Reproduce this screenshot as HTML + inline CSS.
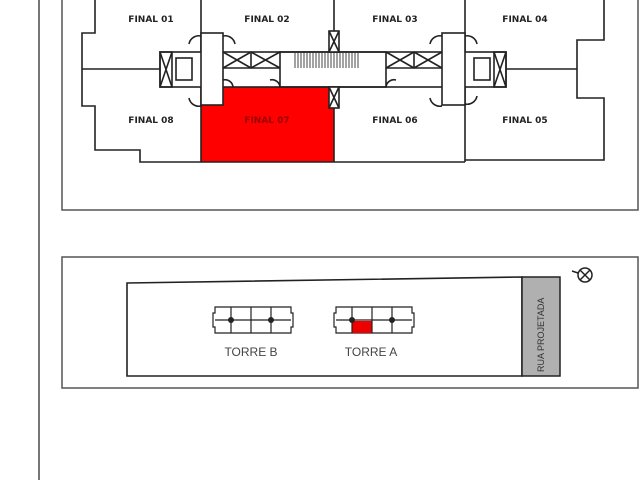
<!DOCTYPE html>
<html><head><style>body{margin:0;background:#fff}svg{display:block}</style></head><body>
<svg width="640" height="480" viewBox="0 0 640 480" xmlns="http://www.w3.org/2000/svg" font-family="Liberation Sans, sans-serif">
<rect width="640" height="480" fill="#fff"/>
<line x1="39" y1="0" x2="39" y2="480" stroke="#777" stroke-width="2"/>
<polyline points="62,0 62,210 638,210 638,0" fill="none" stroke="#555" stroke-width="1.5"/>
<rect x="201" y="87" width="133" height="75" fill="#f00"/>
<g fill="none" stroke="#222" stroke-width="1.6">
<polyline points="95,0 95,33 82,33 82,106 95,106 95,150 140,150 140,162 465,162"/>
<polyline points="604,0 604,40 577,40 577,98 604,98 604,160 465,160"/>
<line x1="201" y1="0" x2="201" y2="162"/>
<line x1="334" y1="0" x2="334" y2="162"/>
<line x1="465" y1="0" x2="465" y2="162"/>
<line x1="82" y1="69" x2="160" y2="69"/>
<line x1="506" y1="69" x2="577" y2="69"/>
<rect x="160" y="52" width="346" height="35" fill="#fff"/>
<rect x="160" y="52" width="12" height="35"/><rect x="494" y="52" width="12" height="35"/>
<path d="M160,52 l12,35 M172,52 l-12,35 M494,52 l12,35 M506,52 l-12,35"/>
<rect x="176" y="58" width="16" height="22"/><rect x="474" y="58" width="16" height="22"/>
<line x1="223" y1="68" x2="280" y2="68"/><line x1="386" y1="68" x2="442" y2="68"/>
<path d="M223,52 l28,16 M251,52 l-28,16 M251,52 l29,16 M280,52 l-29,16 M386,52 l28,16 M414,52 l-28,16 M414,52 l28,16 M442,52 l-28,16"/>
<line x1="251" y1="52" x2="251" y2="68"/><line x1="414" y1="52" x2="414" y2="68"/>
<rect x="280" y="52" width="106" height="35"/>
<rect x="201" y="33" width="22" height="72" fill="#fff"/>
<rect x="442" y="33" width="23" height="72" fill="#fff"/>
<rect x="329" y="31" width="10" height="21" fill="#fff"/><path d="M329,31 l10,21 M339,31 l-10,21"/>
<rect x="329" y="87" width="10" height="21" fill="#fff"/><path d="M329,87 l10,21 M339,87 l-10,21"/>
<path d="M189,44 a10,10 0 0 1 12,-8 M223,36 a10,10 0 0 1 12,8 M189,98 a10,10 0 0 0 12,8 M223,80 a8,8 0 0 1 10,7 M280,87 a8,8 0 0 0 -10,-7 M386,87 a8,8 0 0 1 10,-7 M442,36 a10,10 0 0 0 -12,8 M465,36 a10,10 0 0 1 12,8 M430,98 a10,10 0 0 0 12,8 M465,104 a10,10 0 0 0 12,-8"/>
</g>
<g stroke="#333" stroke-width="0.9">
<path d="M295,53v15M298,53v15M301,53v15M304,53v15M307,53v15M310,53v15M313,53v15M316,53v15M319,53v15M322,53v15M325,53v15M328,53v15M331,53v15M334,53v15M337,53v15M340,53v15M343,53v15M346,53v15M349,53v15M352,53v15M355,53v15M358,53v15"/>
</g>
<g font-size="9" font-weight="bold" fill="#222" text-anchor="middle" font-family="DejaVu Sans, sans-serif">
<text x="151" y="22">FINAL 01</text><text x="267" y="22">FINAL 02</text><text x="395" y="22">FINAL 03</text><text x="525" y="22">FINAL 04</text>
<text x="151" y="123">FINAL 08</text><text x="267" y="123" fill="#900">FINAL 07</text><text x="395" y="123">FINAL 06</text><text x="525" y="123">FINAL 05</text>
</g>
<rect x="62" y="257" width="576" height="131" fill="none" stroke="#555" stroke-width="1.5"/>
<polygon points="127,283 522,277 522,376 127,376" fill="none" stroke="#222" stroke-width="1.6"/>
<rect x="522" y="277" width="38" height="99" fill="#b0b0b0" stroke="#222" stroke-width="1.5"/>
<text transform="translate(544,372) rotate(-90)" font-size="9" fill="#333">RUA PROJETADA</text>
<g fill="none" stroke="#222" stroke-width="1.5"><circle cx="585" cy="275" r="7"/><path d="M580,270 l10,10 M590,270 l-10,10 M572,271 l6,2"/></g>
<g fill="none" stroke="#222" stroke-width="1.2">
<path d="M215,307 h76 v6 h2 v14 h-2 v6 h-76 v-6 h-2 v-14 h2z"/>
<path d="M231,307v26M251,307v26M271,307v26M215,320h76"/>
<path d="M336,307 h76 v6 h2 v14 h-2 v6 h-76 v-6 h-2 v-14 h2z"/>
<rect x="352" y="321" width="20" height="12" fill="#e00" stroke="none"/>
<path d="M352,307v26M372,307v26M392,307v26M336,320h76"/>
</g>
<g fill="#222"><circle cx="231" cy="320" r="3"/><circle cx="271" cy="320" r="3"/><circle cx="352" cy="320" r="3"/><circle cx="392" cy="320" r="3"/></g>
<g font-size="12" fill="#444" text-anchor="middle"><text x="251" y="356">TORRE B</text><text x="371" y="356">TORRE A</text></g>
</svg>
</body></html>
